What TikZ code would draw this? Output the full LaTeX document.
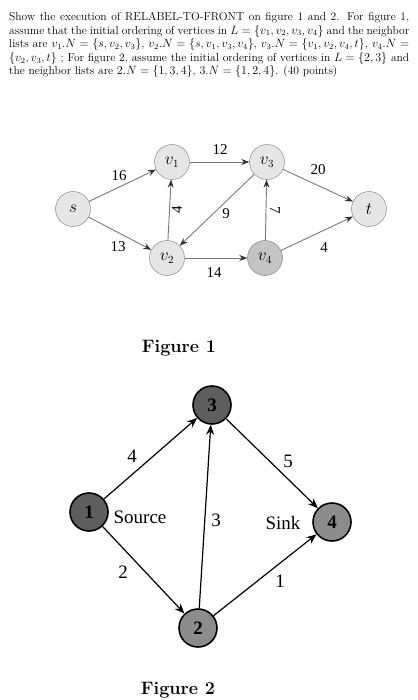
\documentclass[tikz,border=0pt]{standalone}
\usepackage{amsmath, amssymb}
\usepackage{fontspec}
\usepackage{tikz}
\usetikzlibrary{arrows.meta}
\newfontfamily\timesf{Liberation Serif}
\definecolor{nodegray}{HTML}{E6E6E6}
\definecolor{darkgray4}{HTML}{C4C4C4}
\definecolor{edgegray}{HTML}{7A7A7A}
\definecolor{fillone}{HTML}{5E5E5E}
\definecolor{filltwo}{HTML}{8C8C8C}
\tikzset{
    vtx/.style={shape=circle, draw=edgegray, fill=nodegray, minimum size=35pt, inner sep=0pt, font=\fontsize{16}{18}\selectfont},
    flow/.style={draw=edgegray, line width=0.9pt, -{Stealth[length=8pt, width=6pt, color=black!80]}},
    weight/.style={font=\timesf\fontsize{15}{17}\selectfont, inner sep=0pt},
    bigvtx/.style={shape=circle, draw=black, line width=1.6pt, minimum size=38pt, inner sep=0pt, font=\timesf\fontsize{19}{21}\selectfont\bfseries},
    bigflow/.style={draw=black, line width=1.2pt, -{Stealth[length=10pt, width=8pt]}},
    bigweight/.style={font=\timesf\fontsize{19}{21}\selectfont, inner sep=0pt}}

\begin{document}
\begin{tikzpicture}[x=1pt, y={(0pt,-1pt)}]

            \useasboundingbox (0,0) rectangle (417,700);

            \node[anchor=north west, text width=400pt, align=justify, inner sep=0pt, font=\fontsize{11.5}{13.6}\selectfont] (text) at (9,12)
            {Show the execution of RELABEL-TO-FRONT on figure 1 and 2. For figure 1,\linebreak
            assume that the initial ordering of vertices in $L=\{v_1,v_2,v_3,v_4\}$ and the neighbor\linebreak
            lists are $v_1.N=\{s,v_2,v_3\}$, $v_2.N=\{s,v_1,v_3,v_4\}$, $v_3.N=\{v_1,v_2,v_4,t\}$, $v_4.N=$\linebreak
            $\{v_2,v_3,t\}$ ; For figure 2, assume the initial ordering of vertices in $L=\{2,3\}$ and\linebreak
            the neighbor lists are $2.N=\{1,3,4\}$, $3.N=\{1,2,4\}$. (40 points)};

            % figure 1
            \node[vtx] (s) at (73,209) {$s$};
            \node[vtx] (v1) at (172,162) {$v_1$};
            \node[vtx] (v3) at (267,162) {$v_3$};
            \node[vtx] (t) at (369,209) {$t$};
            \node[vtx] (v2) at (167,258) {$v_2$};
            \node[vtx, fill=darkgray4] (v4) at (265,258) {$v_4$};

            \draw[flow] (s) -- (v1) node[weight] at (119,176) {16};
            \draw[flow] (s) -- (v2) node[weight] at (118,247) {13};
            \draw[flow] (v1) -- (v3) node[weight] at (220,150) {12};
            \draw[flow] (v2) -- (v1) node[weight, rotate=90] at (177,210) {4};
            \draw[flow] (v3) -- (v2) node[weight] at (226,214) {9};
            \draw[flow] (v4) -- (v3) node[weight, rotate=-90] at (275,210) {7};
            \draw[flow] (v2) -- (v4) node[weight] at (214,273) {14};
            \draw[flow] (v3) -- (t) node[weight] at (318,170) {20};
            \draw[flow] (v4) -- (t) node[weight] at (324,248) {4};

            \node[font=\fontsize{18}{20}\selectfont\bfseries] (fig1) at (179,348) {Figure 1};

            % figure 2
            \node[bigvtx, fill=fillone] (n1) at (89,512) {1};
            \node[bigvtx, fill=fillone] (n3) at (212,405) {3};
            \node[bigvtx, fill=filltwo] (n2) at (198,628) {2};
            \node[bigvtx, fill=filltwo] (n4) at (332,522) {4};

            \node[bigweight] (src) at (140,517) {Source};
            \node[bigweight] (snk) at (283,523) {Sink};

            \draw[bigflow] (n1) -- (n3) node[bigweight] at (132,456) {4};
            \draw[bigflow] (n1) -- (n2) node[bigweight] at (123,572) {2};
            \draw[bigflow] (n2) -- (n3) node[bigweight] at (216,520) {3};
            \draw[bigflow] (n3) -- (n4) node[bigweight] at (288,461) {5};
            \draw[bigflow] (n2) -- (n4) node[bigweight] at (280,581) {1};

            \node[font=\fontsize{18}{20}\selectfont\bfseries] (fig2) at (178,690) {Figure 2};

        \end{tikzpicture}
\end{document}
